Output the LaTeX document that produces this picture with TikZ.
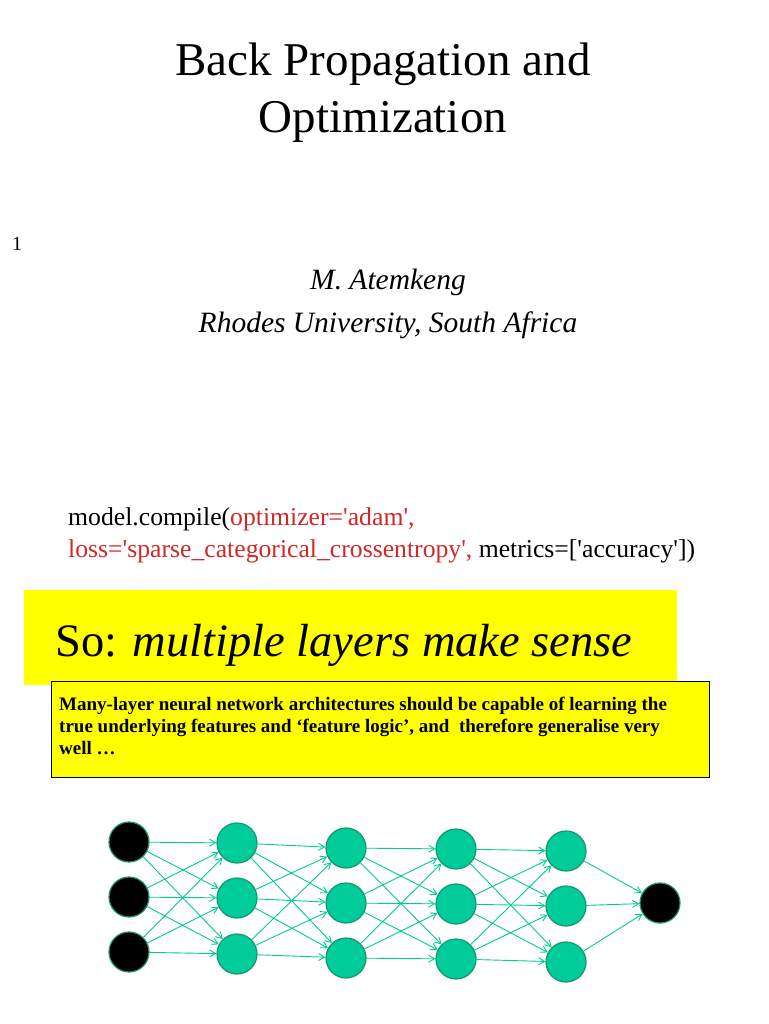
\documentclass[tikz,border=0pt]{standalone}
\usepackage{fontspec}
\setmainfont{Liberation Serif}
\usetikzlibrary{arrows.meta}
\definecolor{teal1}{RGB}{0,204,153}
\definecolor{teal2}{RGB}{20,150,110}
\definecolor{red1}{RGB}{210,40,40}
\definecolor{yel}{RGB}{255,255,0}
\newcommand\sq{\textquotesingle}
\begin{document}
\begin{tikzpicture}[x=1pt,y=-1pt,
  neuron/.style={circle,minimum size=40pt,inner sep=0pt,draw=teal2,line width=1.2pt,fill=teal1},
  inneuron/.style={neuron,fill=black},
  conn/.style={draw=teal1,line width=0.9pt,-{Straight Barb[length=6pt,width=7pt]}},
  txt/.style={inner sep=0pt,anchor=base west}]
\useasboundingbox (0,0) rectangle (768,1024);
\fill[white] (0,0) rectangle (768,1024);
\node[align=center,font=\fontsize{47}{57}\selectfont,anchor=base] (title) at (383,133) {Back Propagation and\\Optimization};
\node[txt,font=\fontsize{20}{24}\selectfont] (num) at (12,250) {1};
\node[align=center,font=\itshape\fontsize{29.5}{43}\selectfont,anchor=base] (auth) at (388,332) {M. Atemkeng\\Rhodes University, South Africa};
\node[txt,font=\fontsize{25.7}{30}\selectfont] (c1) at (68,525) {model.compile(\textcolor{red1}{optimizer=\sq adam\sq,}};
\node[txt,font=\fontsize{25.7}{30}\selectfont] (c2) at (68,557) {\textcolor{red1}{loss=\sq sparse\_categorical\_crossentropy\sq,} metrics=[\sq accuracy\sq])};
\fill[yel] (24,590) rectangle (677,685);
\node[txt,font=\fontsize{46.5}{50}\selectfont] (so) at (55,656) {So: \textit{multiple layers make sense}};
\node[draw=black,fill=yel,line width=0.8pt,minimum width=658pt,minimum height=96pt,anchor=north west] (box) at (51,681) {};
\node[txt,font=\bfseries\fontsize{19}{22}\selectfont,align=left,anchor=north west] (bt) at (59,697) {Many-layer neural network architectures should be capable of learning the\\true underlying features and ‘feature logic’, and\ \ therefore generalise very\\well …};
% neurons
\foreach \i/\y in {1/842,2/897,3/952} \node[inneuron] (a\i) at (129,\y) {};
\foreach \i/\y in {1/843,2/898,3/954} \node[neuron] (b\i) at (237,\y) {};
\foreach \i/\y in {1/848,2/903,3/958} \node[neuron] (c\i) at (346,\y) {};
\foreach \i/\y in {1/849,2/904,3/959} \node[neuron] (d\i) at (456,\y) {};
\foreach \i/\y in {1/851,2/906,3/962} \node[neuron] (e\i) at (566,\y) {};
\node[inneuron] (o) at (660,903) {};
\foreach \p/\q in {a/b,b/c,c/d,d/e}
  \foreach \i in {1,2,3}
    \foreach \j in {1,2,3}
      \draw[conn] (\p\i) -- (\q\j);
\foreach \i in {1,2,3} \draw[conn] (e\i) -- (o);
\end{tikzpicture}
\end{document}
